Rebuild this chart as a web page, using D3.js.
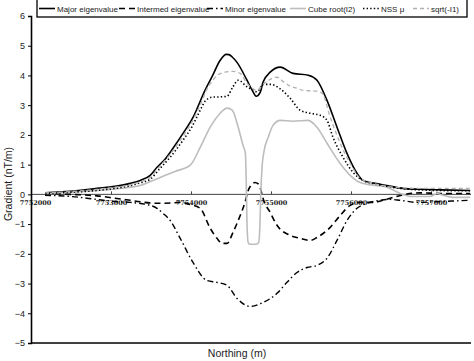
<!DOCTYPE html>
<html>
<head>
<meta charset="utf-8">
<script src="https://cdn.jsdelivr.net/npm/d3@7"></script>
<style>
  html, body { margin: 0; padding: 0; background: #fff; }
  svg { display: block; font-family: "Liberation Sans", Arial, sans-serif; }
</style>
</head>
<body>
<div id="chart"></div>
<script>
// data: [northing (m), gradient (nT/m)]
const major = [
  [7752175, 0.05], [7752490, 0.10], [7752825, 0.20], [7753050, 0.27], [7753240, 0.37],
  [7753365, 0.47], [7753490, 0.64], [7753575, 0.91], [7753675, 1.18], [7753775, 1.55],
  [7753900, 2.05], [7754025, 2.59], [7754175, 3.50], [7754265, 3.97], [7754365, 4.51],
  [7754440, 4.71], [7754475, 4.70], [7754515, 4.62], [7754575, 4.44], [7754700, 3.84],
  [7754765, 3.50], [7754815, 3.30], [7754865, 3.43], [7754900, 3.77], [7754990, 4.11],
  [7755115, 4.28], [7755275, 4.07], [7755465, 4.01], [7755575, 3.84], [7755700, 3.16],
  [7755825, 2.26], [7755950, 1.38], [7756075, 0.71], [7756150, 0.47], [7756300, 0.37],
  [7756450, 0.30], [7756650, 0.20], [7756865, 0.17], [7757115, 0.15], [7757490, 0.13]
];

const intermed = [
  [7752175, 0.03], [7752490, 0.00], [7752825, -0.05], [7753050, -0.13], [7753240, -0.20],
  [7753365, -0.25], [7753575, -0.30], [7753740, -0.29], [7753865, -0.27], [7753990, -0.34],
  [7754115, -0.47], [7754240, -1.14], [7754325, -1.48], [7754390, -1.65], [7754450, -1.65],
  [7754525, -1.28], [7754615, -0.71], [7754675, -0.27], [7754715, 0.13], [7754765, 0.35],
  [7754800, 0.40], [7754840, 0.35], [7754875, 0.13], [7754900, -0.13], [7754990, -0.61],
  [7755075, -1.04], [7755240, -1.38], [7755365, -1.48], [7755490, -1.55], [7755575, -1.45],
  [7755740, -1.11], [7755865, -0.71], [7755990, -0.37], [7756115, -0.27], [7756275, -0.27],
  [7756400, -0.20], [7756525, -0.10], [7756675, 0.00], [7756865, 0.05], [7757115, 0.03],
  [7757490, 0.03]
];

const minor = [
  [7752175, -0.03], [7752490, -0.07], [7752825, -0.17], [7753050, -0.24], [7753240, -0.27],
  [7753490, -0.37], [7753575, -0.47], [7753650, -0.64], [7753740, -0.88], [7753865, -1.48],
  [7754025, -2.29], [7754200, -2.90], [7754325, -2.96], [7754450, -3.06], [7754575, -3.50],
  [7754740, -3.77], [7754900, -3.64], [7755075, -3.33], [7755200, -2.96], [7755325, -2.63],
  [7755450, -2.46], [7755575, -2.39], [7755700, -2.15], [7755825, -1.55], [7755950, -0.88],
  [7756075, -0.47], [7756200, -0.30], [7756365, -0.20], [7756490, -0.17], [7756615, -0.20],
  [7756825, -0.27], [7757115, -0.24], [7757490, -0.20]
];

const cubeRoot = [
  [7752200, 0.03], [7752825, 0.13], [7753240, 0.24], [7753365, 0.30], [7753615, 0.57],
  [7753800, 0.77], [7753990, 0.98], [7754115, 1.58], [7754240, 2.26], [7754365, 2.73],
  [7754450, 2.90], [7754515, 2.83], [7754590, 2.26], [7754650, 1.65], [7754680, 1.38],
  [7754692, 0.20], [7754700, -1.00], [7754715, -1.62], [7754740, -1.68], [7754815, -1.68],
  [7754845, -1.62], [7754862, -1.00], [7754872, 0.00], [7754890, 0.98], [7754915, 1.48],
  [7754965, 1.92], [7755025, 2.32], [7755115, 2.49], [7755275, 2.46], [7755465, 2.49],
  [7755575, 2.26], [7755700, 1.72], [7755865, 1.04], [7755990, 0.64], [7756115, 0.40],
  [7756300, 0.30], [7756450, 0.24], [7756615, 0.03], [7756740, -0.07], [7756990, -0.07],
  [7757075, 0.03], [7757150, -0.03], [7757275, -0.10], [7757490, -0.10]
];

const nss = [
  [7752175, 0.03], [7752490, 0.07], [7752825, 0.13], [7753050, 0.20], [7753240, 0.29],
  [7753365, 0.39], [7753490, 0.51], [7753615, 0.88], [7753740, 1.25], [7753900, 1.82],
  [7754015, 2.29], [7754115, 2.83], [7754175, 3.13], [7754265, 3.27], [7754365, 3.28],
  [7754450, 3.30], [7754525, 3.62], [7754590, 3.84], [7754700, 3.62], [7754765, 3.52],
  [7754825, 3.45], [7754900, 3.70], [7754990, 3.70], [7755115, 3.55], [7755240, 3.23],
  [7755365, 2.83], [7755490, 2.73], [7755615, 2.66], [7755700, 2.49], [7755775, 1.92],
  [7755900, 1.25], [7756025, 0.74], [7756150, 0.47], [7756300, 0.35], [7756450, 0.27],
  [7756650, 0.19], [7756865, 0.15], [7757115, 0.13], [7757490, 0.12]
];

const sqrtI1 = [
  [7752175, 0.05], [7752490, 0.09], [7752825, 0.17], [7753050, 0.24], [7753240, 0.32],
  [7753365, 0.42], [7753490, 0.57], [7753615, 0.95], [7753740, 1.35], [7753900, 1.95],
  [7754015, 2.45], [7754115, 3.00], [7754200, 3.55], [7754275, 3.84], [7754325, 4.00],
  [7754425, 4.11], [7754515, 4.14], [7754615, 4.07], [7754700, 3.74], [7754765, 3.57],
  [7754825, 3.50], [7754900, 3.70], [7754990, 3.87], [7755075, 3.94], [7755150, 3.80],
  [7755240, 3.64], [7755325, 3.57], [7755400, 3.50], [7755575, 3.47], [7755640, 3.40],
  [7755740, 2.60], [7755865, 1.72], [7755990, 1.04], [7756115, 0.54], [7756240, 0.40],
  [7756450, 0.27], [7756650, 0.22], [7756865, 0.20], [7757115, 0.20], [7757490, 0.20]
];

const yTicks = [-5, -4, -3, -2, -1, 0, 1, 2, 3, 4, 5, 6];
const xTicks = [7752000, 7753000, 7754000, 7755000, 7756000, 7757000];
const legendNames = ['Major eigenvalue', 'Intermed eigenvalue', 'Minor eigenvalue', 'Cube root(I2)', 'NSS \u03bc', 'sqrt(-I1)'];

// line styles, same order as legendNames
const series = [
  { data: major,    stroke: '#000',    dash: null,          width: 1.6 },
  { data: intermed, stroke: '#000',    dash: '6,4',         width: 1.6 },
  { data: minor,    stroke: '#000',    dash: '6,3,1.5,3',   width: 1.4 },
  { data: cubeRoot, stroke: '#bdbdbd', dash: null,          width: 1.6 },
  { data: nss,      stroke: '#000',    dash: '1.4,2.2',     width: 1.6 },
  { data: sqrtI1,   stroke: '#b0b0b0', dash: '4,3',         width: 1.3 }
];

const W = 474, H = 361;
const svg = d3.select('#chart').append('svg').attr('width', W).attr('height', H);

const x = d3.scaleLinear().domain([7752000, 7757500]).range([31, 471]);
const y = d3.scaleLinear().domain([-5, 6]).range([343, 16]);

// zero line with northing labels
svg.append('line')
  .attr('x1', x.range()[0]).attr('x2', x.range()[1])
  .attr('y1', y(0)).attr('y2', y(0))
  .attr('stroke', '#444').attr('stroke-width', 1);

const xg = svg.append('g')
  .attr('transform', `translate(0,${y(0)})`)
  .call(d3.axisBottom(x).tickValues(xTicks).tickFormat(d3.format('d')).tickSize(3).tickPadding(3));
xg.select('.domain').remove();
xg.selectAll('.tick line').attr('y1', -3).attr('y2', 0).attr('stroke', '#444');
xg.selectAll('.tick text')
  .attr('y', 6)
  .attr('font-size', 6.5).attr('font-weight', 'bold')
  .attr('font-family', '"DejaVu Serif", serif').attr('fill', '#222');
// first label sits just right of the "0" tick label
xg.selectAll('.tick text').filter(d => d === xTicks[0]).attr('dx', 4);

// lines
const line = d3.line().x(d => x(d[0])).y(d => y(d[1])).curve(d3.curveMonotoneX);
svg.append('g').selectAll('path')
  .data(series)
  .join('path')
  .attr('d', s => line(s.data))
  .attr('fill', 'none')
  .attr('stroke', s => s.stroke)
  .attr('stroke-width', s => s.width)
  .attr('stroke-dasharray', s => s.dash)
  .attr('stroke-linejoin', 'round');

// y axis
const yg = svg.append('g')
  .attr('transform', `translate(${x.range()[0]},0)`)
  .call(d3.axisLeft(y).tickValues(yTicks).tickFormat(d3.format('d')).tickSize(3).tickPadding(3));
yg.select('.domain').attr('stroke-width', 1.6);
yg.selectAll('.tick text').attr('font-size', 9).attr('fill', '#222')
  .attr('font-family', '"Liberation Sans", Arial, sans-serif');

// bottom frame line
svg.append('line')
  .attr('x1', x.range()[0]).attr('x2', x.range()[1])
  .attr('y1', y(-5)).attr('y2', y(-5))
  .attr('stroke', '#000').attr('stroke-width', 1.6);

// axis titles
svg.append('text')
  .attr('x', 237).attr('y', 357)
  .attr('text-anchor', 'middle').attr('font-size', 10.5).attr('fill', '#222')
  .text('Northing (m)');
svg.append('text')
  .attr('transform', 'translate(12,184) rotate(-90)')
  .attr('text-anchor', 'middle').attr('font-size', 10.5).attr('fill', '#222')
  .text('Gradient (nT/m)');

// legend
const legendX = [39, 119, 207, 290, 363, 413];
const lg = svg.append('g');
lg.append('rect')
  .attr('x', 37).attr('y', -2).attr('width', 430).attr('height', 19)
  .attr('fill', '#fff').attr('stroke', '#000').attr('stroke-width', 1.3);
const items = lg.selectAll('g.item')
  .data(series.map((s, i) => ({ ...s, name: legendNames[i], lx: legendX[i] })))
  .join('g').attr('class', 'item')
  .attr('transform', d => `translate(${d.lx},8.5)`);
items.append('line')
  .attr('x1', 0).attr('x2', 16).attr('y1', 0).attr('y2', 0)
  .attr('stroke', d => d.stroke).attr('stroke-width', d => d.width)
  .attr('stroke-dasharray', d => d.dash);
items.append('text')
  .attr('x', 18).attr('y', 3)
  .attr('font-size', 8).attr('fill', '#222')
  .text(d => d.name);
</script>
</body>
</html>
